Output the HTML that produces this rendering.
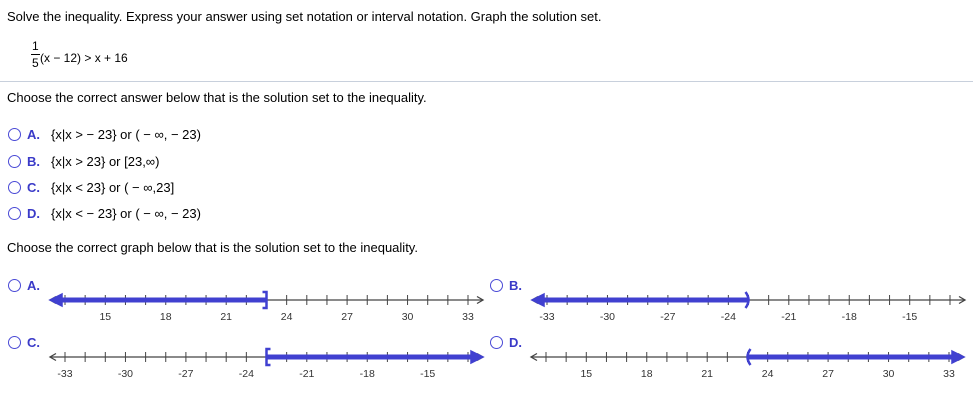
<!DOCTYPE html>
<html><head><meta charset="utf-8"><style>
body{margin:0;width:973px;height:404px;background:#fff;font-family:"Liberation Sans",Arial,sans-serif;font-size:13px;color:#000;position:relative;overflow:hidden}
.t{position:absolute;white-space:nowrap}
.rad{position:absolute;width:13px;height:13px;border:1.4px solid #4a4ad6;border-radius:50%;box-sizing:border-box}
.lb{position:absolute;font-weight:bold;color:#3a3ac8;font-size:13px}
</style></head><body>
<div class="t" style="left:7px;top:9px">Solve the inequality. Express your answer using set notation or interval notation. Graph the solution set.</div>
<div class="t" style="left:32px;top:39px;font-size:12px">1</div>
<div style="position:absolute;left:31px;top:54px;width:9px;height:1px;background:#000"></div>
<div class="t" style="left:32px;top:56px;font-size:12px">5</div>
<div class="t" style="left:40px;top:51px;font-size:12px">(x − 12) &gt; x + 16</div>
<div style="position:absolute;left:0;top:81px;width:973px;height:1px;background:#c8d0dc"></div>
<div class="t" style="left:7px;top:90px">Choose the correct answer below that is the solution set to the inequality.</div>

<div class="rad" style="left:8px;top:128px"></div><div class="lb" style="left:27px;top:127px">A.</div><div class="t" style="left:51px;top:127px">{x|x &gt; − 23} or ( − ∞, − 23)</div>
<div class="rad" style="left:8px;top:155px"></div><div class="lb" style="left:27px;top:154px">B.</div><div class="t" style="left:51px;top:154px">{x|x &gt; 23} or [23,∞)</div>
<div class="rad" style="left:8px;top:181px"></div><div class="lb" style="left:27px;top:180px">C.</div><div class="t" style="left:51px;top:180px">{x|x &lt; 23} or ( − ∞,23]</div>
<div class="rad" style="left:8px;top:207px"></div><div class="lb" style="left:27px;top:206px">D.</div><div class="t" style="left:51px;top:206px">{x|x &lt; − 23} or ( − ∞, − 23)</div>

<div class="t" style="left:7px;top:240px">Choose the correct graph below that is the solution set to the inequality.</div>

<div class="rad" style="left:8px;top:279px"></div><div class="lb" style="left:27px;top:278px">A.</div>
<div class="rad" style="left:490px;top:279px"></div><div class="lb" style="left:509px;top:278px">B.</div>
<div class="rad" style="left:8px;top:336px"></div><div class="lb" style="left:27px;top:335px">C.</div>
<div class="rad" style="left:490px;top:336px"></div><div class="lb" style="left:509px;top:335px">D.</div>

<svg id="lines" width="973" height="404" style="position:absolute;left:0;top:0"></svg>
<script>
const graphNames=["A","B","C","D"];
const axisMins=[13,-33,-33,13];
const axisMaxs=[33,-13,-13,33];
const labelStarts=[15,-33,-33,15];
const endpoints=[23,-23,-23,23];
const directions=["left","left","right","right"];
const bracketTypes=["]",")","[","("];
const NS="http://www.w3.org/2000/svg";
const svg=document.getElementById("lines");
const originsX=[65,547,65,546], originsY=[300,300,357,357], unit=20.15;
function mk(tag,attrs){const e=document.createElementNS(NS,tag);for(const k in attrs)e.setAttribute(k,attrs[k]);svg.appendChild(e);return e;}
graphNames.forEach((g,i)=>{
  const X=v=>originsX[i]+(v-axisMins[i])*unit, y=originsY[i];
  const left=X(axisMins[i])-15,right=X(axisMaxs[i])+15;
  const ax=mk("line",{x1:left,y1:y,x2:right,y2:y,stroke:"#444","stroke-width":1.2});
  
  
  mk("path",{d:`M${left+6},${y-3.5} L${left},${y} L${left+6},${y+3.5}`,fill:"none",stroke:"#444","stroke-width":1.3});
  mk("path",{d:`M${right-6},${y-3.5} L${right},${y} L${right-6},${y+3.5}`,fill:"none",stroke:"#444","stroke-width":1.3});
  for(let v=axisMins[i];v<=axisMaxs[i];v++){
    const tk=mk("line",{x1:X(v),y1:y-5,x2:X(v),y2:y+5,stroke:"#444","stroke-width":1});
    
    
  }
  for(let v=labelStarts[i];v<=axisMaxs[i];v+=3){
    const t=mk("text",{x:X(v),y:y+20,"text-anchor":"middle","font-size":"10.5","font-family":"Liberation Sans, Arial, sans-serif",fill:"#333"});
    t.textContent=v;
    
    
  }
  const ex=X(endpoints[i]);
  const s=directions[i]==="left"?left:right;
  const seg=mk("line",{x1:s+(directions[i]==="left"?6:-6),y1:y,x2:ex,y2:y,stroke:"#4040d0","stroke-width":5});
  
  
  const d=directions[i]==="left"?1:-1;
  mk("path",{d:`M${s+d*12},${y-6} L${s},${y} L${s+d*12},${y+6} Z`,fill:"#4040d0",stroke:"#4040d0","stroke-width":1.5});
  const b=bracketTypes[i];let pd;
  if(b==="]")pd=`M${ex-4},${y-8} L${ex},${y-8} L${ex},${y+8} L${ex-4},${y+8}`;
  else if(b==="[")pd=`M${ex+4},${y-8} L${ex},${y-8} L${ex},${y+8} L${ex+4},${y+8}`;
  else if(b===")")pd=`M${ex-3},${y-8} Q${ex+3},${y} ${ex-3},${y+8}`;
  else pd=`M${ex+3},${y-8} Q${ex-3},${y} ${ex+3},${y+8}`;
  const br=mk("path",{d:pd,fill:"none",stroke:"#4040d0","stroke-width":2.5});
  
  
});
</script>
</body></html>
